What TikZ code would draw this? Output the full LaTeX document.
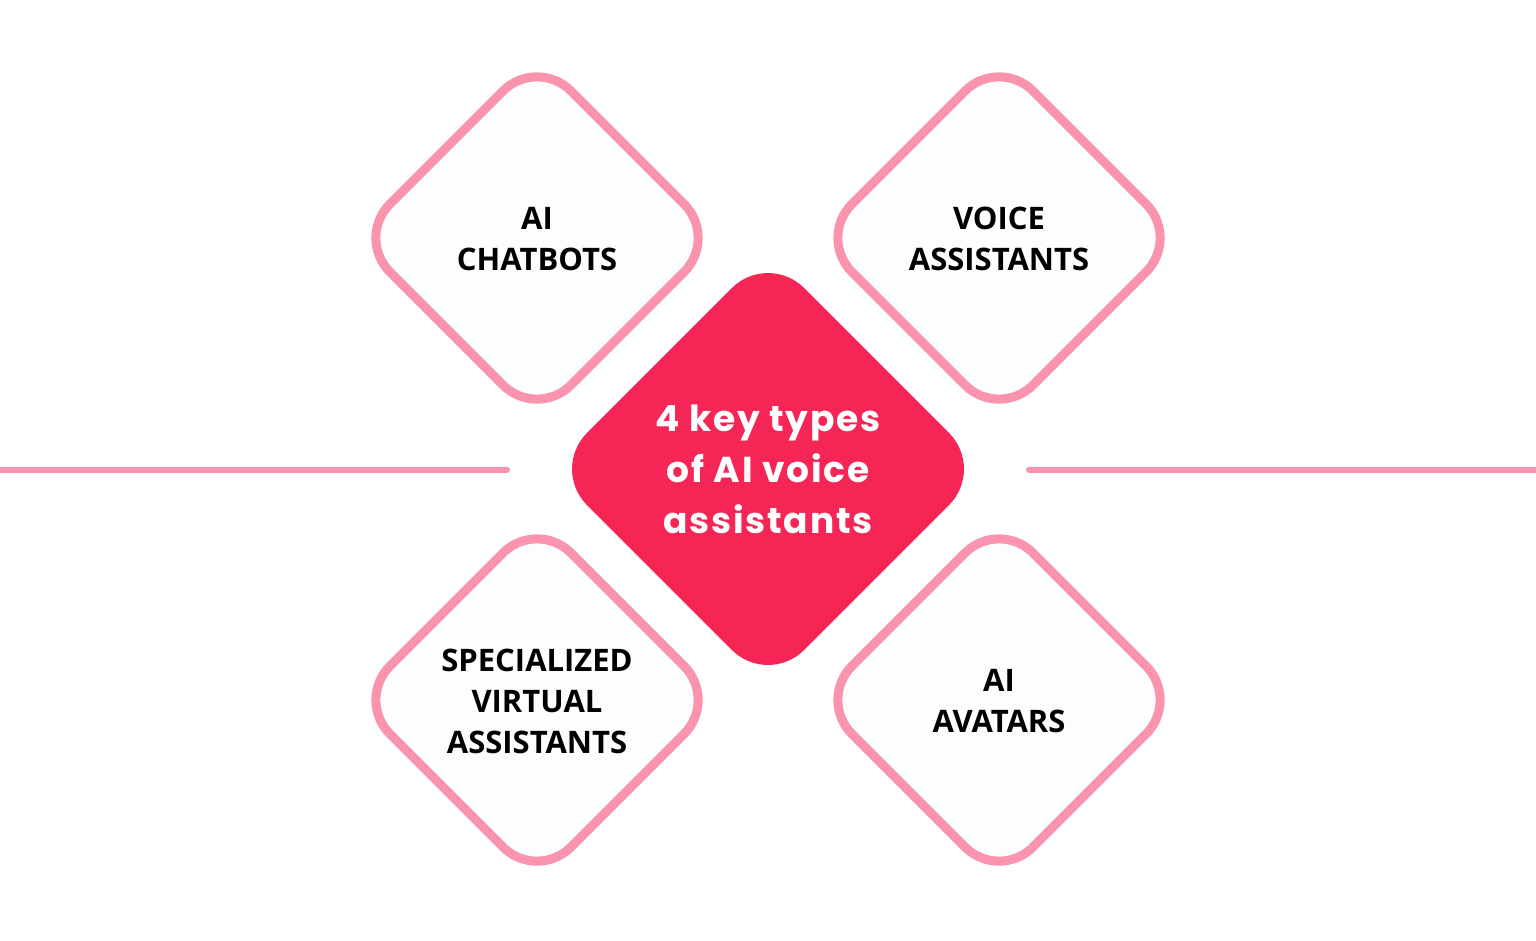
\documentclass[tikz,border=0pt]{standalone}
\usepackage{fontspec}
\setmainfont{Open Sans}
\newfontfamily\poppins[LetterSpace=5]{Poppins}
\definecolor{pinkline}{HTML}{F993AE}
\definecolor{hot}{HTML}{F52556}
\definecolor{paper}{HTML}{FCFDFE}
\tikzset{
  smallbox/.style={draw=pinkline, fill=paper, line width=9pt, rounded corners=48pt,
    minimum size=256pt, inner sep=0pt, rotate=45},
  bigbox/.style={fill=hot, rounded corners=51pt, minimum size=307pt, inner sep=0pt, rotate=45},
  smalllbl/.style={align=center, font=\fontsize{31}{41}\selectfont\bfseries, text=black},
  biglbl/.style={align=center, font=\poppins\fontsize{36}{51}\selectfont\bfseries, text=white},
  axisline/.style={draw=pinkline, line width=6pt, line cap=round}
}
\begin{document}
\begin{tikzpicture}[x=1pt,y=-1pt]
\useasboundingbox (0,0) rectangle (1536,940);
\fill[white] (0,0) rectangle (1536,940);
\coordinate (l0) at (-10,469.5);
\coordinate (l1) at (507,469.5);
\coordinate (r0) at (1029,469.5);
\coordinate (r1) at (1546,469.5);
\draw[axisline] (l0) -- (l1);
\draw[axisline] (r0) -- (r1);
\node[smallbox] (tl) at (537,238) {};
\node[smallbox] (tr) at (999,238) {};
\node[smallbox] (bl) at (537,700) {};
\node[smallbox] (br) at (999,700) {};
\node[bigbox] (c) at (768,469) {};
\node[smalllbl] (tlt) at (537,239) {AI\\CHATBOTS};
\node[smalllbl] (trt) at (999,239) {VOICE\\ASSISTANTS};
\node[smalllbl] (blt) at (537,701) {SPECIALIZED\\VIRTUAL\\ASSISTANTS};
\node[smalllbl] (brt) at (999,701) {AI\\AVATARS};
\node[biglbl] (ct) at (c) {4 key types\\of AI voice\\assistants};
\end{tikzpicture}
\end{document}
